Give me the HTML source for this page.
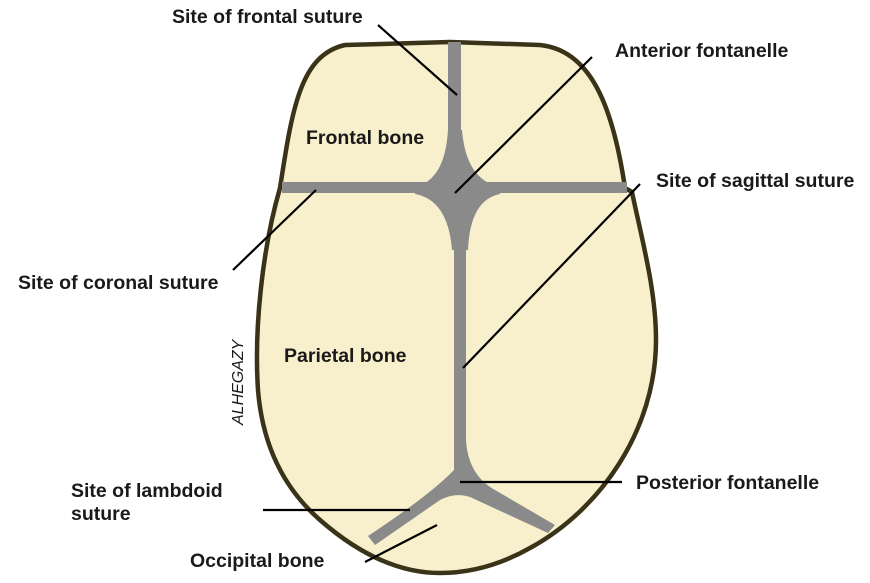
<!DOCTYPE html>
<html><head><style>
html,body{margin:0;padding:0;background:#fff;}
svg{display:block;}
text{font-family:"Liberation Sans",sans-serif;font-weight:bold;font-size:19.5px;fill:#1a1a1a;}
</style></head><body>
<svg width="870" height="583" viewBox="0 0 870 583">
<path d="M450,42 L540,45 C588,50 612,100 625,188 L632,192 C642,240 656,290 656,340 C656,430 600,510 530,548 C500,565 470,573 440,573 C400,573 360,555 320,520 C280,485 262,440 258,390 C254,330 262,250 280,188 C292,110 300,55 345,45 Z" fill="#f8f0cc" stroke="#3a3318" stroke-width="4.5"/>
<g fill="#8a8a8a">
<rect x="448" y="42" width="13" height="150"/>
<rect x="282" y="182" width="345" height="11"/>
<rect x="454" y="190" width="12" height="290"/>
<path d="M415,187 Q445,180 448,130 L462,130 Q466,180 500,187 L500,194 Q470,200 468,250 L452,250 Q448,200 415,194 Z"/>
<path d="M454,440 L466,440 Q468,475 495,490 L555,525 L548,533 L470,497 Q455,492 440,500 L375,545 L368,536 Q430,495 454,470 Z"/>
</g>
<g stroke="#000" stroke-width="2.2">
<line x1="378" y1="25" x2="457" y2="95"/>
<line x1="592" y1="57" x2="455" y2="193"/>
<line x1="640" y1="184" x2="463" y2="368"/>
<line x1="233" y1="270" x2="316" y2="190"/>
<line x1="460" y1="482" x2="622" y2="482"/>
<line x1="263" y1="510" x2="410" y2="510"/>
<line x1="365" y1="562" x2="437" y2="525"/>
</g>
<text x="172" y="23">Site of frontal suture</text>
<text x="615" y="57">Anterior fontanelle</text>
<text x="656" y="187">Site of sagittal suture</text>
<text x="18" y="289">Site of coronal suture</text>
<text x="306" y="144">Frontal bone</text>
<text x="284" y="362">Parietal bone</text>
<text x="636" y="489">Posterior fontanelle</text>
<text x="71" y="497">Site of lambdoid</text>
<text x="71" y="520">suture</text>
<text x="190" y="567">Occipital bone</text>
<text transform="translate(243,425) rotate(-90)" style="font-weight:normal;font-style:italic;font-size:16px">ALHEGAZY</text>
</svg>
</body></html>
